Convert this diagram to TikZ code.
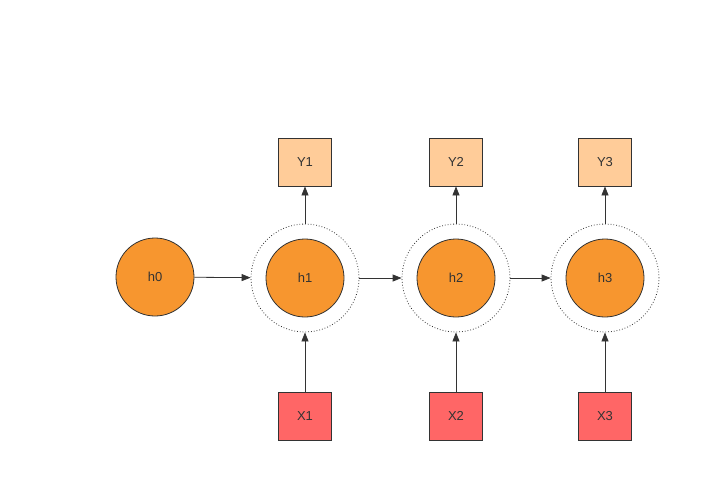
\documentclass[tikz,border=0pt]{standalone}
\usepackage{fontspec}
\setmainfont{Liberation Sans}
\usetikzlibrary{calc,arrows.meta}
\definecolor{hfill}{HTML}{F7962F}
\definecolor{yfill}{HTML}{FFCC99}
\definecolor{xfill}{HTML}{FF6666}
\definecolor{ink}{HTML}{333333}
\tikzset{
  hid/.style={draw=ink,circle,fill=hfill,thick,minimum size=78pt,inner sep=0pt,text=ink,font=\fontsize{13}{13}\selectfont},
  ring/.style={draw=ink,circle,dotted,thick,minimum size=108pt,inner sep=0pt},
  outb/.style={draw=ink,rectangle,fill=yfill,thick,minimum width=53pt,minimum height=48pt,text=ink,font=\fontsize{13}{13}\selectfont},
  inb/.style={outb,fill=xfill},
  arr/.style={-{Triangle[length=9pt,width=7pt]},thick,draw=ink}
}
\begin{document}
\begin{tikzpicture}[x=1pt,y=-1pt]
\useasboundingbox (0,0) rectangle (720,499);
\node[hid] (h0) at (155,277) {h0};
\foreach \i/\x in {1/305,2/456,3/605}{
  \node[ring] (r\i) at (\x,278) {};
  \node[hid] (h\i) at (\x,278) {h\i};
  \node[outb] (y\i) at (\x,162) {Y\i};
  \node[inb] (x\i) at (\x,416) {X\i};
  \draw[arr] (r\i) -- (y\i);
  \draw[arr] (x\i) -- (r\i);
}
\draw[arr] (h0) -- (r1);
\draw[arr] (r1) -- (r2);
\draw[arr] (r2) -- (r3);
\end{tikzpicture}
\end{document}
